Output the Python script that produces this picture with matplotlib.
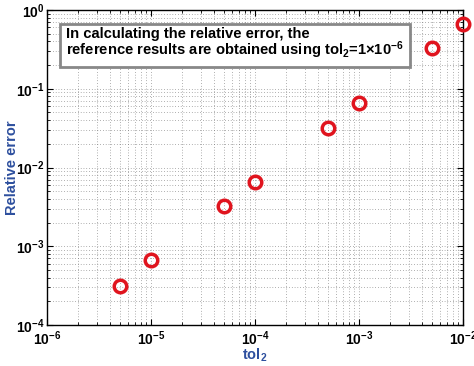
import matplotlib
matplotlib.use("Agg")
import matplotlib.pyplot as plt
from matplotlib.ticker import LogLocator, NullFormatter

plt.rcParams['font.family'] = ['Liberation Sans', 'DejaVu Sans']
plt.rcParams['mathtext.fontset'] = 'custom'
plt.rcParams['mathtext.rm'] = 'Liberation Sans:bold'
plt.rcParams['mathtext.bf'] = 'Liberation Sans:bold'
plt.rcParams['mathtext.it'] = 'Liberation Sans:bold'

tol2 = [5e-6, 1e-5, 5e-5, 1e-4, 5e-4, 1e-3, 5e-3, 1e-2]
rel_err = [3.1e-4, 6.6e-4, 3.2e-3, 6.5e-3, 0.032, 0.066, 0.33, 0.67]
xticks = [1e-6, 1e-5, 1e-4, 1e-3, 1e-2]
xticklabels = ['10$^{-6}$', '10$^{-5}$', '10$^{-4}$', '10$^{-3}$', '10$^{-2}$']
yticks = [1e-4, 1e-3, 1e-2, 1e-1, 1e0]
yticklabels = ['10$^{-4}$', '10$^{-3}$', '10$^{-2}$', '10$^{-1}$', '10$^{0}$']

fig = plt.figure(figsize=(4.74, 3.66), dpi=100)
ax = fig.add_axes([47/474, 1-325/366, (463-47)/474, (325-10)/366])
ax.set_xscale('log')
ax.set_yscale('log')
ax.set_xlim(1e-6, 1e-2)
ax.set_ylim(1e-4, 1e0)

ax.plot(tol2, rel_err, 'o', ms=9, mfc='none', mec='#e0141e', mew=2.5, zorder=5, clip_on=False)

ax.set_xticks(xticks)
ax.set_xticklabels(xticklabels)
ax.set_yticks(yticks)
ax.set_yticklabels(yticklabels)
ax.xaxis.set_minor_locator(LogLocator(base=10, subs=range(2, 10), numticks=20))
ax.yaxis.set_minor_locator(LogLocator(base=10, subs=range(2, 10), numticks=20))
ax.xaxis.set_minor_formatter(NullFormatter())
ax.yaxis.set_minor_formatter(NullFormatter())
ax.grid(True, which='both', linestyle=(0, (1, 3)), color='#666666', linewidth=0.5)
ax.tick_params(which='both', direction='in', top=True, right=True, labelsize=10)
ax.tick_params(which='major', length=4, pad=3)
ax.tick_params(axis='y', which='major', pad=2)
ax.tick_params(which='minor', length=2)
for lab in ax.get_xticklabels() + ax.get_yticklabels():
    lab.set_fontweight('bold')
for s in ax.spines.values():
    s.set_linewidth(1.0)

ax.set_xlabel(r'tol$_2$', color='#2d4f9e', fontsize=10.5, fontweight='bold')
ax.xaxis.set_label_coords(0.5, -0.07)
ax.set_ylabel('Relative error', color='#2d4f9e', fontsize=10.5, fontweight='bold')
ax.yaxis.set_label_coords(-0.068, 0.5)

ax.text(0.046, 0.945,
        'In calculating the relative error, the\nreference results are obtained using tol$_2$=1$\\times$10$^{-6}$',
        transform=ax.transAxes, fontsize=10.6, fontweight='bold', va='top', ha='left',
        linespacing=0.9, zorder=6,
        bbox=dict(boxstyle='square,pad=0.4', fc='white', ec='#888888', lw=2))

fig.savefig('out.png', dpi=100)
